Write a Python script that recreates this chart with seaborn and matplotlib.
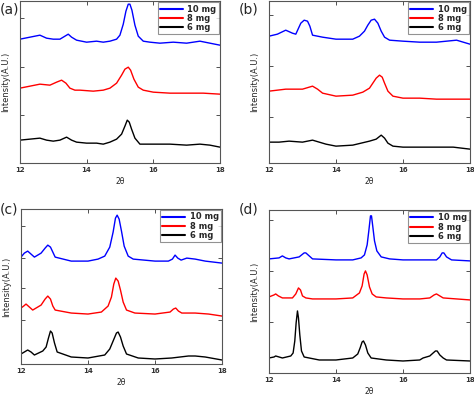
import matplotlib
matplotlib.use("Agg")
import matplotlib.pyplot as plt
import seaborn as sns
import pandas as pd

sns.set_theme(style="white")
plt.rcParams['font.family'] = ['DejaVu Sans']

series_labels = ["10 mg", "8 mg", "6 mg"]
series_colors = ["#0000ff", "#ff0000", "#000000"]
panel_labels = ["(a)", "(b)", "(c)", "(d)"]
x_ticks = [12, 14, 16, 18]

# ---- panel (a) ----
a10_x = [12.0, 12.3, 12.6, 12.8, 13.0, 13.2, 13.35, 13.45, 13.55, 13.7, 14.0, 14.3, 14.5, 14.7, 14.9, 15.0, 15.1, 15.18, 15.25, 15.3, 15.36, 15.45, 15.55, 15.7, 15.9, 16.2, 16.6, 17.0, 17.4, 17.7, 18.0]
a10_y = [124, 126, 128, 125, 124, 124, 127, 129, 126, 123, 121, 122, 121, 122, 124, 128, 139, 152, 159, 159, 153, 138, 127, 122, 121, 120, 121, 120, 122, 120, 118]
a8_x = [12.0, 12.3, 12.6, 12.9, 13.1, 13.25, 13.38, 13.5, 13.65, 13.8, 14.2, 14.5, 14.7, 14.9, 15.05, 15.15, 15.25, 15.32, 15.42, 15.55, 15.7, 16.0, 16.5, 17.0, 17.5, 18.0]
a8_y = [75, 77, 79, 78, 81, 83, 80, 75, 73, 73, 72, 73, 75, 80, 88, 94, 96, 93, 84, 76, 73, 71, 70, 70, 70, 69]
a6_x = [12.0, 12.3, 12.6, 12.8, 13.0, 13.2, 13.4, 13.55, 13.7, 14.0, 14.3, 14.5, 14.7, 14.9, 15.05, 15.15, 15.22, 15.28, 15.35, 15.45, 15.6, 16.0, 16.5, 17.0, 17.4, 17.7, 18.0]
a6_y = [23, 24, 25, 23, 22, 23, 26, 23, 21, 20, 20, 19, 21, 24, 29, 37, 43, 41, 34, 25, 19, 19, 19, 18, 19, 18, 16]

# ---- panel (b) ----
b10_x = [12.0, 12.25, 12.5, 12.7, 12.8, 12.95, 13.05, 13.15, 13.22, 13.3, 13.6, 14.0, 14.5, 14.7, 14.85, 14.95, 15.05, 15.15, 15.25, 15.35, 15.45, 15.6, 16.0, 16.5, 17.0, 17.3, 17.6, 18.0]
b10_y = [127, 129, 133, 130, 129, 140, 143, 142, 137, 128, 126, 124, 124, 127, 132, 138, 143, 144, 140, 132, 126, 123, 122, 121, 121, 122, 123, 119]
b8_x = [12.0, 12.5, 13.0, 13.3, 13.45, 13.6, 14.0, 14.5, 14.8, 15.0, 15.1, 15.2, 15.3, 15.38, 15.45, 15.55, 15.7, 16.0, 16.5, 17.0, 17.5, 18.0]
b8_y = [72, 74, 74, 77, 74, 70, 67, 68, 71, 75, 80, 85, 88, 86, 80, 72, 67, 65, 65, 64, 64, 64]
b6_x = [12.0, 12.3, 12.6, 13.0, 13.3, 13.5, 13.7, 14.0, 14.5, 15.0, 15.2, 15.35, 15.45, 15.55, 15.7, 16.0, 16.5, 17.0, 17.5, 18.0]
b6_y = [21, 21, 22, 21, 23, 21, 19, 17, 18, 22, 24, 28, 25, 20, 17, 16, 16, 16, 16, 14]

# ---- panel (c) ----
c10_x = [12.0, 12.1, 12.2, 12.3, 12.4, 12.6, 12.72, 12.8, 12.88, 12.95, 13.02, 13.5, 14.0, 14.3, 14.5, 14.65, 14.75, 14.82, 14.87, 14.93, 15.0, 15.08, 15.2, 15.35, 16.0, 16.4, 16.52, 16.6, 16.68, 16.78, 16.95, 17.2, 17.5, 18.0]
c10_y = [107, 111, 113, 110, 107, 111, 116, 119, 117, 112, 107, 103, 103, 105, 108, 117, 132, 146, 149, 145, 133, 118, 108, 105, 103, 103, 105, 109, 106, 104, 106, 105, 103, 101]
c8_x = [12.0, 12.08, 12.15, 12.25, 12.35, 12.6, 12.72, 12.8, 12.88, 12.95, 13.02, 13.5, 14.0, 14.4, 14.6, 14.7, 14.77, 14.83, 14.9, 14.97, 15.05, 15.15, 15.4, 16.0, 16.45, 16.55, 16.62, 16.7, 16.8, 17.2, 17.6, 18.0]
c8_y = [56, 58, 60, 57, 54, 59, 65, 68, 65, 58, 54, 51, 50, 52, 58, 67, 80, 86, 83, 74, 62, 54, 51, 50, 52, 55, 56, 53, 51, 51, 50, 48]
c6_x = [12.0, 12.1, 12.2, 12.3, 12.4, 12.65, 12.75, 12.82, 12.88, 12.93, 13.0, 13.08, 13.5, 14.0, 14.5, 14.65, 14.75, 14.85, 14.9, 14.97, 15.05, 15.15, 15.5, 16.0, 16.5, 17.0, 17.2, 17.5, 18.0]
c6_y = [10, 12, 14, 12, 9, 13, 17, 26, 33, 31, 21, 12, 7, 6, 9, 15, 23, 31, 32, 27, 18, 10, 6, 5, 6, 8, 8, 7, 4]

# ---- panel (d) ----
d10_x = [12.0, 12.3, 12.4, 12.5, 12.6, 12.9, 13.05, 13.1, 13.2, 13.3, 14.0, 14.5, 14.75, 14.85, 14.93, 14.98, 15.03, 15.06, 15.1, 15.15, 15.22, 15.35, 15.6, 16.0, 16.5, 17.0, 17.1, 17.17, 17.22, 17.3, 17.45, 18.0]
d10_y = [114, 115, 117, 115, 114, 116, 120, 120, 117, 114, 113, 113, 115, 118, 128, 142, 157, 157, 146, 132, 122, 116, 114, 113, 113, 113, 116, 120, 120, 116, 113, 112]
d8_x = [12.0, 12.15, 12.2, 12.28, 12.4, 12.7, 12.8, 12.88, 12.94, 13.0, 13.1, 13.3, 14.0, 14.5, 14.7, 14.78, 14.84, 14.88, 14.93, 15.0, 15.08, 15.2, 15.5, 16.0, 16.5, 16.8, 16.93, 17.0, 17.1, 17.2, 18.0]
d8_y = [76, 78, 79, 77, 75, 75, 79, 85, 83, 77, 75, 74, 74, 75, 80, 87, 99, 102, 98, 86, 79, 76, 75, 74, 74, 75, 78, 79, 77, 75, 73]
d6_x = [12.0, 12.15, 12.2, 12.3, 12.4, 12.65, 12.72, 12.77, 12.81, 12.85, 12.88, 12.92, 12.97, 13.05, 13.5, 14.0, 14.5, 14.65, 14.72, 14.78, 14.82, 14.88, 14.95, 15.05, 15.5, 16.0, 16.5, 16.6, 16.7, 16.8, 16.9, 16.97, 17.02, 17.1, 17.2, 17.3, 18.0]
d6_y = [15, 16, 17, 16, 15, 17, 20, 32, 50, 62, 55, 38, 22, 16, 13, 13, 15, 19, 25, 31, 32, 28, 20, 15, 13, 12, 13, 15, 16, 17, 20, 22, 22, 18, 15, 13, 12]

panels = [
    [(a10_x, a10_y), (a8_x, a8_y), (a6_x, a6_y)],
    [(b10_x, b10_y), (b8_x, b8_y), (b6_x, b6_y)],
    [(c10_x, c10_y), (c8_x, c8_y), (c6_x, c6_y)],
    [(d10_x, d10_y), (d8_x, d8_y), (d6_x, d6_y)],
]
y_limits = [(0, 162), (0, 162), (0, 155), (0, 163)]
y_ticks = [[48, 96, 145], [46, 97, 148], [44, 76, 106, 138], [51, 102, 153]]

# axes rectangles in figure fractions (left, bottom, width, height)
rects = [
    (0.042, 0.587, 0.422, 0.410),
    (0.5675, 0.587, 0.424, 0.410),
    (0.0443, 0.0785, 0.424, 0.392),
    (0.5675, 0.0557, 0.424, 0.413),
]
label_pos = [(0.0, 0.975), (0.503, 0.975), (0.0, 0.47), (0.503, 0.47)]

fig = plt.figure(figsize=(4.74, 3.95), dpi=100)

for i, series in enumerate(panels):
    ax = fig.add_axes(rects[i])
    frames = []
    for (xs, ys), lab in zip(series, series_labels):
        frames.append(pd.DataFrame({"x": xs, "y": ys, "s": lab}))
    df = pd.concat(frames, ignore_index=True)
    sns.lineplot(data=df, x="x", y="y", hue="s", hue_order=series_labels,
                 palette=series_colors, linewidth=1.0, ax=ax, sort=True,
                 estimator=None)
    ax.set_xlim(12, 18)
    ax.set_ylim(*y_limits[i])
    ax.set_xticks(x_ticks)
    ax.set_xticklabels([str(t) for t in x_ticks], fontsize=5, fontweight='bold')
    ax.set_yticks(y_ticks[i])
    ax.set_yticklabels([])
    ax.tick_params(direction='in', length=3, width=0.6, top=True, right=True,
                   bottom=True, left=True, pad=3, colors='#333333')
    for sp in ax.spines.values():
        sp.set_color('#555555')
        sp.set_linewidth(0.8)
    ax.set_xlabel("2θ", fontsize=5.5, labelpad=3)
    ax.set_ylabel("Intensity(A.U.)", fontsize=6, labelpad=4)
    leg = ax.legend(loc='upper right', prop={'weight': 'bold', 'size': 6},
                    handlelength=2.8, handletextpad=0.5, labelspacing=0.05,
                    borderpad=0.25, borderaxespad=0.15, fancybox=False,
                    frameon=True, title=None)
    leg.get_frame().set_edgecolor('#777777')
    leg.get_frame().set_linewidth(0.8)
    for ln in leg.get_lines():
        ln.set_linewidth(1.5)
    fig.text(label_pos[i][0], label_pos[i][1], panel_labels[i], fontsize=10,
             ha='left', va='center')

fig.savefig("out.png", dpi=100)
